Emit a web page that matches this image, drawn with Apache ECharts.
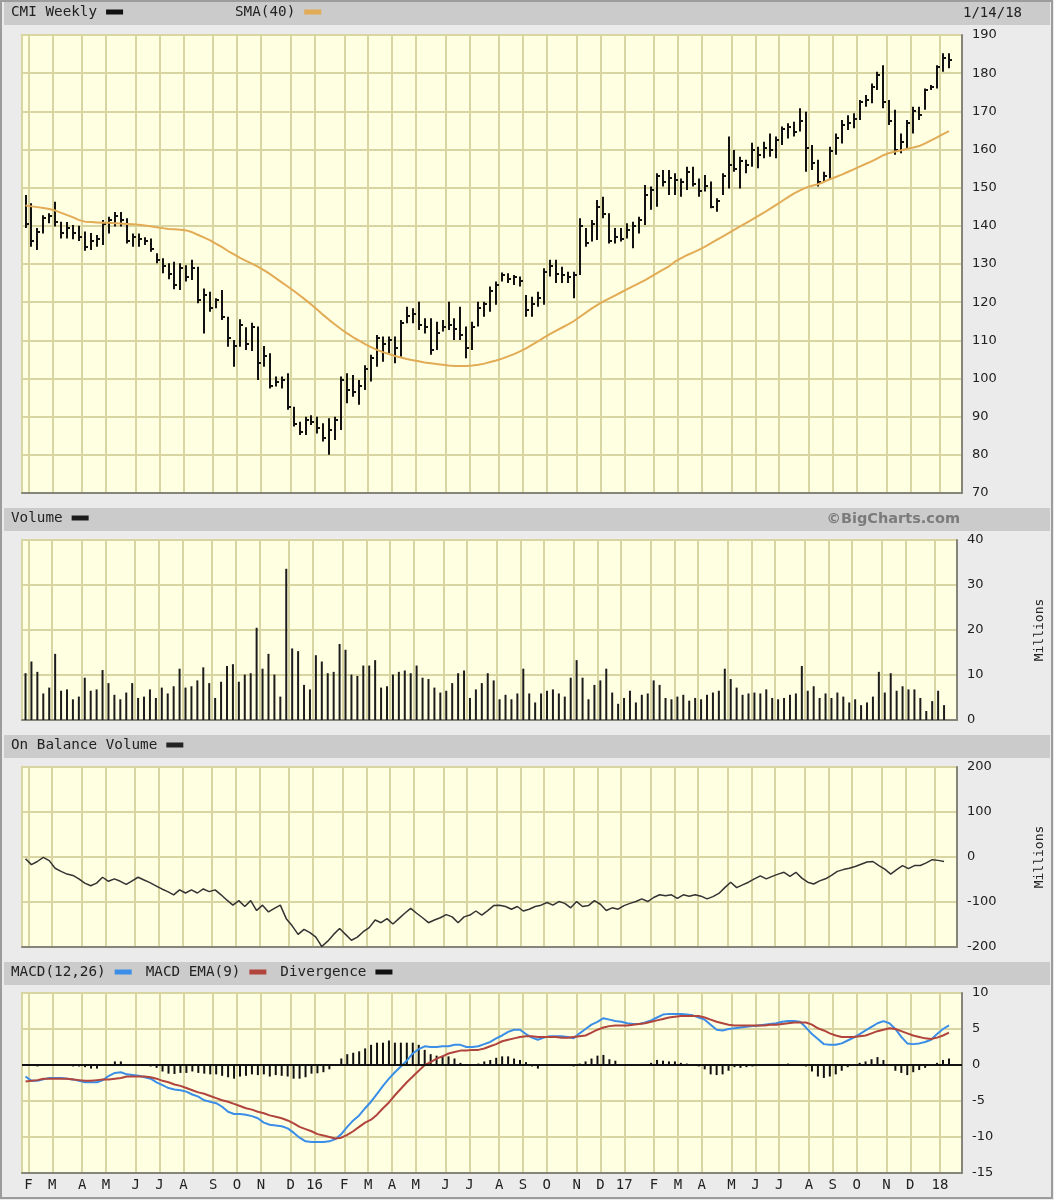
<!DOCTYPE html>
<html><head><meta charset="utf-8">
<script src="https://cdn.jsdelivr.net/npm/echarts@6/dist/echarts.min.js"></script>
<style>html,body{margin:0;padding:0;background:#ebebeb}#c{width:1054px;height:1200px}</style>
</head><body><div id="c"></div>
<script>
// ---------- DATA: 156 weekly bars, weeks starting Sunday 2015-01-25 ... 2018-01-14 ----------
const high = [
148.1,145.9,139.4,142.8,143.3,146.3,141.1,141.0,140.2,140.0,
138.5,138.1,137.6,141.5,142.4,143.6,143.6,142.0,138.0,138.0,
137.0,136.7,132.8,131.5,130.2,130.6,130.2,129.7,131.1,129.3,
123.6,122.7,121.0,123.2,116.2,110.1,115.5,113.4,114.6,113.6,
108.5,106.6,100.5,100.5,101.4,92.6,88.7,90.0,90.4,90.0,
88.3,89.6,90.0,100.5,101.4,100.9,99.6,103.5,106.2,111.4,
111.0,111.0,111.0,115.3,118.8,118.4,120.1,115.8,115.8,114.9,
115.3,120.1,115.8,118.8,113.6,114.9,120.1,120.1,124.1,125.4,
127.8,127.6,127.1,126.7,121.9,121.4,122.7,128.9,131.1,131.1,
129.3,128.0,128.0,142.0,139.4,141.5,146.8,147.6,143.3,139.4,
139.4,140.7,141.1,142.4,150.7,150.3,153.8,154.6,154.6,153.8,
152.4,155.5,155.5,152.4,153.3,151.6,147.2,153.8,163.4,159.9,
158.1,157.3,161.8,160.7,162.0,164.2,163.4,166.0,166.9,167.3,
170.8,169.9,161.2,157.3,154.2,160.7,164.2,167.7,169.0,169.5,
173.0,174.3,177.3,180.4,182.1,173.0,170.4,164.2,167.7,171.2,
171.2,176.0,176.9,182.1,185.2,185.2];
const low = [
139.4,134.5,133.7,138.0,140.7,139.8,136.7,136.7,136.5,136.0,
133.5,133.7,134.5,135.0,138.0,139.8,139.8,135.4,134.5,134.5,
135.0,133.2,130.2,127.6,126.0,123.4,123.2,125.4,125.8,119.7,
111.8,117.5,118.4,115.3,108.3,103.1,108.3,107.5,107.2,99.6,
103.1,97.4,97.9,97.4,91.8,87.4,85.2,85.2,87.8,85.6,
83.5,80.0,83.9,86.5,93.5,95.2,93.1,97.0,99.2,103.1,
104.4,106.6,104.0,105.7,114.5,114.5,112.7,111.8,106.2,107.5,
112.3,112.7,110.1,110.1,105.3,107.5,113.6,116.2,117.5,119.3,
125.4,125.0,124.5,124.1,116.2,116.2,118.8,119.3,126.7,125.0,
125.0,125.0,121.0,127.1,134.5,135.9,136.3,142.0,135.4,135.4,
135.9,136.7,134.1,138.0,140.2,144.2,145.0,150.3,148.1,148.1,
147.6,149.4,150.3,147.6,149.0,144.6,143.7,148.1,149.8,154.2,
149.8,153.8,155.5,155.1,157.7,158.1,157.7,161.2,162.9,163.4,
164.7,154.2,154.6,150.3,151.6,152.0,158.6,161.6,165.1,165.6,
167.7,171.2,172.1,175.6,170.8,166.4,158.6,159.0,160.3,164.2,
167.7,170.4,175.6,176.0,180.4,181.3];
const close = [
140.5,136.0,138.5,142.0,142.5,141.0,138.0,139.5,138.0,137.0,
134.5,136.0,136.5,140.5,141.5,142.5,141.5,136.0,137.0,136.5,
136.0,133.8,131.0,129.5,127.5,124.5,129.0,126.5,129.0,120.5,
122.0,118.5,120.5,116.0,110.5,108.5,114.0,109.0,113.5,104.0,
106.0,98.0,99.0,99.5,92.5,88.0,86.0,89.0,88.5,87.0,
84.5,86.5,89.0,99.5,97.0,96.5,98.0,102.5,105.5,110.5,
109.0,110.0,108.0,114.5,116.5,117.0,114.0,113.5,107.5,112.0,
113.5,114.0,113.0,111.5,108.0,113.5,118.5,119.5,123.0,124.5,
127.0,126.0,126.5,125.5,118.0,119.5,121.0,128.0,129.5,127.5,
127.0,126.5,127.0,140.0,135.5,140.5,145.0,143.0,136.0,137.0,
136.5,139.0,140.0,141.5,148.0,149.5,153.0,151.5,152.5,152.0,
151.5,154.0,151.0,149.0,150.5,145.0,146.5,153.0,156.0,155.0,
157.0,156.0,160.0,158.5,160.5,160.0,162.5,165.5,166.0,164.5,
167.5,160.5,156.5,151.5,153.0,159.5,163.0,166.5,167.0,168.0,
172.5,173.0,176.5,179.5,172.5,167.5,160.0,162.0,167.0,170.0,
169.0,175.5,176.5,181.5,184.0,183.5];
const sma40 = [
145.3,145.1,144.9,144.7,144.4,144.0,143.4,142.8,142.2,141.5,
141.1,141.0,140.9,140.8,140.8,140.7,140.6,140.5,140.4,140.3,
140.1,139.9,139.6,139.4,139.2,139.1,139.0,138.8,138.3,137.6,
136.9,136.2,135.3,134.4,133.4,132.5,131.6,130.8,130.1,129.3,
128.4,127.4,126.3,125.2,124.1,123.0,121.8,120.6,119.3,118.0,
116.6,115.3,114.1,112.9,111.8,110.8,109.9,109.0,108.2,107.5,
106.9,106.4,105.9,105.5,105.1,104.8,104.5,104.2,104.0,103.8,
103.6,103.4,103.3,103.3,103.3,103.4,103.6,103.9,104.3,104.7,
105.2,105.8,106.4,107.1,107.9,108.8,109.7,110.7,111.6,112.5,
113.3,114.1,115.0,116.1,117.2,118.3,119.3,120.2,121.0,121.8,
122.6,123.4,124.2,125.0,125.8,126.7,127.6,128.5,129.4,130.6,
131.5,132.3,133.0,133.7,134.5,135.4,136.3,137.2,138.1,139.0,
139.9,140.8,141.7,142.6,143.5,144.5,145.5,146.5,147.5,148.5,
149.3,150.0,150.5,150.9,151.5,152.2,152.8,153.4,154.1,154.8,
155.5,156.2,156.9,157.7,158.5,159.1,159.5,159.8,160.2,160.5,
160.9,161.6,162.4,163.2,164.0,164.8];
const volume = [
10.4,13,10.7,5.9,7.2,14.7,6.5,6.8,4.6,5.2,
9.4,6.5,6.8,11.1,8.2,5.6,4.6,6.1,8.2,4.9,
5.2,6.8,4.9,7.2,5.9,7.5,11.4,7.2,7.5,8.8,
11.7,8.2,4.9,8.5,12,12.4,8.5,10.1,10.4,20.5,
11.4,14.7,10.1,5.2,33.6,15.9,15.3,7.8,6.8,14.4,
13,10.4,10.7,16.9,15.6,10.1,9.8,12.1,12.1,13.3,
7.2,7.5,10.1,10.7,11,10.4,12.1,9.4,9.1,7.2,
6.1,6.5,8.2,10.4,11,4.9,6.8,8.2,10.4,8.8,
4.6,5.6,4.6,5.9,11.4,5.9,3.9,5.9,6.5,6.8,
5.9,5.2,9.4,13.3,9.4,4.6,7.8,8.8,11.4,6.1,
3.6,4.9,6.5,3.9,5.6,5.9,8.8,7.8,4.9,4.6,
5.2,5.6,4.3,4.9,4.6,5.6,6.1,6.5,11.4,9.1,
7.2,5.6,5.9,6.1,5.9,6.8,4.9,4.6,4.9,5.6,
5.9,12,6.5,7.5,4.9,5.9,4.9,6.1,5.2,3.9,
4.6,3.3,3.9,5.2,10.7,6.1,10.4,6.5,7.5,6.8,
6.8,4.9,2,4.2,6.5,3.3];
const obv = [
-3.7,-17,-10,-1,-8,-25,-32,-38,-41,-48.5,
-58,-64,-58,-45,-54,-48.5,-54,-61,-53,-45,
-51,-57,-64,-71,-77,-84,-73,-80,-73,-80,
-71,-77,-73,-84,-96,-107,-97,-110,-97,-119,
-107,-122,-114,-107,-137,-153,-172,-161,-168,-178,
-199,-187,-172,-159,-172,-185,-178,-166,-157,-140,
-146,-137,-149,-137,-125,-114,-125,-135,-146,-140,
-135,-128,-133,-146,-133,-129,-120,-129,-119,-108,
-107,-110,-116,-110,-120,-116,-110,-107,-101,-107,
-99,-103,-113,-99,-110,-108,-97,-105,-119,-113,
-116,-108,-103,-99,-93,-99,-90,-84,-86,-84,
-92,-84,-87,-84,-87,-93,-88,-81,-68,-56,
-68,-62,-56,-48.5,-42,-48.5,-43,-38,-34,-43,
-34,-47,-56,-60,-53,-48.5,-41,-32,-28,-25,
-21,-16,-11,-10,-19,-27,-38,-28,-19,-26,
-19,-19,-13,-6,-7.5,-10];
const macd = [
-1.6,-2.2,-2.2,-2.0,-1.8,-1.8,-1.8,-1.9,-2.0,-2.2,
-2.4,-2.4,-2.4,-2.1,-1.5,-1.1,-1.0,-1.3,-1.4,-1.5,
-1.7,-1.9,-2.4,-2.8,-3.2,-3.4,-3.5,-3.7,-4.1,-4.4,
-4.9,-5.1,-5.3,-5.8,-6.5,-6.8,-6.8,-6.9,-7.1,-7.4,
-8.0,-8.3,-8.4,-8.5,-8.8,-9.4,-10.1,-10.6,-10.7,-10.7,
-10.7,-10.6,-10.3,-9.6,-8.6,-7.7,-7.0,-6.0,-5.1,-4.0,
-2.9,-1.9,-1.0,-0.2,0.6,1.6,2.2,2.6,2.5,2.5,
2.6,2.6,2.8,2.8,2.5,2.5,2.6,2.9,3.2,3.7,
4.1,4.6,4.9,4.9,4.3,3.8,3.5,3.8,4.0,4.0,
4.0,3.9,3.7,4.4,5.0,5.6,6.0,6.5,6.3,6.1,
6.0,5.8,5.7,5.7,5.9,6.2,6.6,7.0,7.1,7.1,
7.1,7.0,6.9,6.6,6.3,5.6,4.9,4.8,5.0,5.1,
5.2,5.3,5.4,5.5,5.6,5.7,5.8,6.0,6.1,6.1,
6.0,5.2,4.3,3.6,2.9,2.8,2.8,3.0,3.4,3.8,
4.3,4.8,5.3,5.8,6.1,5.8,5.0,3.9,3.0,2.9,
3.0,3.2,3.5,4.3,5.0,5.5];
const macdEma = [
-2.3,-2.2,-2.1,-1.9,-1.9,-1.9,-1.9,-1.9,-2.0,-2.1,
-2.2,-2.2,-2.1,-2.0,-2.0,-1.9,-1.8,-1.6,-1.6,-1.6,
-1.6,-1.7,-1.9,-2.2,-2.4,-2.7,-2.9,-3.2,-3.5,-3.8,
-4.0,-4.3,-4.6,-4.9,-5.1,-5.4,-5.7,-6.0,-6.2,-6.5,
-6.7,-7.0,-7.2,-7.4,-7.7,-8.1,-8.6,-8.9,-9.2,-9.6,
-9.8,-10.0,-10.2,-10.1,-9.7,-9.2,-8.6,-8.0,-7.6,-6.9,
-6.0,-5.2,-4.2,-3.3,-2.4,-1.6,-0.8,0.0,0.4,0.9,
1.2,1.6,1.8,2.0,2.0,2.1,2.1,2.3,2.6,2.9,
3.3,3.5,3.7,3.9,4.0,4.0,3.9,3.9,3.9,3.9,
3.8,3.8,3.9,4.0,4.1,4.5,4.9,5.2,5.4,5.5,
5.5,5.5,5.6,5.7,5.8,6.0,6.2,6.4,6.6,6.7,
6.8,6.8,6.8,6.8,6.6,6.3,6.0,5.8,5.6,5.5,
5.5,5.5,5.5,5.5,5.5,5.6,5.6,5.7,5.8,5.9,
5.9,5.9,5.6,5.1,4.8,4.4,4.1,3.9,3.9,3.9,
4.0,4.1,4.4,4.7,4.9,5.1,5.0,4.7,4.4,4.1,
3.9,3.7,3.6,3.8,4.1,4.5];
const divergence = [
0.1,0,-0.2,0,0,0,0,0,-0.2,-0.2,
-0.3,-0.5,-0.5,0,0,0.5,0.5,0,0,0,
0,-0.2,-0.4,-0.9,-1.2,-1.25,-1.1,-1.1,-0.9,-1.1,
-1.2,-1.3,-1.3,-1.5,-1.7,-1.9,-1.6,-1.5,-1.3,-1.4,
-1.3,-1.6,-1.4,-1.5,-1.6,-1.9,-1.9,-1.7,-1.2,-1.15,
-1.0,-0.6,0,0.9,1.5,1.7,1.9,2.3,2.8,3.1,
3.1,3.4,3.1,3.1,3.1,3.1,2.8,2.1,1.5,1.3,
1.3,1.2,0.9,0.3,0,0,0.2,0.5,0.7,1.0,
1.2,1.2,0.9,0.7,0.4,-0.2,-0.5,0,0,0,
0,0,-0.2,0.2,0.5,0.9,1.3,1.4,0.8,0.6,
0,0,0,0,0,0.3,0.7,0.6,0.5,0.5,
0.3,0.2,0,-0.2,-0.6,-1.3,-1.4,-1.3,-0.8,-0.3,
-0.4,-0.3,-0.2,0,0,0,0,0,0.2,0,
0,-0.2,-0.9,-1.6,-1.8,-1.6,-1.3,-0.8,-0.3,0,
0.3,0.5,0.8,1.1,0.7,0.1,-0.8,-1.1,-1.4,-1.0,
-0.7,-0.4,0,0.3,0.7,0.9];
const monthLabels = ['F','M','A','M','J','J','A','S','O','N','D','16',
                     'F','M','A','M','J','J','A','S','O','N','D','17',
                     'F','M','A','M','J','J','A','S','O','N','D','18'];

// ---------- calendar helpers ----------
const DAY = 864e5, BASE = Date.UTC(2015, 0, 1);
const dayNum = (y, m, d) => (Date.UTC(y, m, d) - BASE) / DAY;
const firstSunday = dayNum(2015, 0, 25);
// each weekly bar sits in the middle of its Sunday-to-Sunday slot
const weekDays = high.map((_, i) => firstSunday + 7 * i + 3.5);
// month grid line: first week boundary (Sunday) on or after the 1st of the month
const monthTicks = monthLabels.map((_, k) => {
  const t = Date.UTC(2015, 1 + k, 1);
  const dow = new Date(t).getUTCDay();
  return (t - BASE) / DAY + ((7 - dow) % 7);
});
const X_MIN = 23.36, X_MAX = 1127.8;

// ---------- styles ----------
const MONO = '"DejaVu Sans Mono", monospace';
const SANS = '"DejaVu Sans", sans-serif';
const GRIDC = '#d9d5a3';
const PLOTBG = '#ffffe2';
const grids = [
  {left: 22, top: 35, width: 940, height: 458},
  {left: 22, top: 540, width: 940, height: 180},
  {left: 22, top: 767, width: 940, height: 180},
  {left: 22, top: 993, width: 940, height: 180}
];
const yCfg = [
  {min: 70, max: 190, interval: 10},
  {min: 0, max: 40, interval: 10, name: 'Millions'},
  {min: -200, max: 200, interval: 100, name: 'Millions'},
  {min: -15, max: 10, interval: 5}
];

const option = {
  backgroundColor: '#ebebeb',
  animation: false,
  grid: grids.map(g => Object.assign({show: true, backgroundColor: PLOTBG, borderWidth: 2, borderColor: GRIDC}, g)),
  xAxis: grids.map((g, k) => ({
    type: 'value', gridIndex: k, min: X_MIN, max: X_MAX,
    axisLine: {show: true, onZero: false, lineStyle: {color: '#85857a', width: 2}},
    axisTick: {show: false, customValues: monthTicks},
    axisLabel: {
      show: k === 3, customValues: monthTicks, margin: 5,
      formatter: v => { const j = monthTicks.indexOf(v); return j >= 0 ? monthLabels[j] : ''; },
      fontFamily: MONO, fontSize: 14, color: '#222'
    },
    splitLine: {show: true, lineStyle: {color: GRIDC, width: 2}}
  })),
  yAxis: yCfg.map((c, k) => ({
    type: 'value', gridIndex: k, position: 'right', min: c.min, max: c.max, interval: c.interval,
    name: c.name || '', nameLocation: 'middle', nameRotate: 90, nameGap: 76,
    nameTextStyle: {fontFamily: MONO, fontSize: 13, color: '#222'},
    axisLine: {show: true, lineStyle: {color: '#85857a', width: 2}},
    axisTick: {show: false},
    axisLabel: {fontFamily: SANS, fontSize: 13, color: '#222', margin: 10},
    splitLine: {show: true, lineStyle: {color: GRIDC, width: 2}}
  })),
  legend: (function () {
    const base = {orient: 'horizontal', align: 'right', icon: 'rect', itemWidth: 17, itemHeight: 5,
      padding: 0, itemGap: 14, selectedMode: false,
      textStyle: {fontFamily: MONO, fontSize: 14.3, color: '#222', padding: [0, 4, 0, 0]}};
    return [
      Object.assign({}, base, {left: 11, top: 5, data: ['CMI Weekly']}),
      Object.assign({}, base, {left: 235, top: 5, data: ['SMA(40)']}),
      Object.assign({}, base, {left: 11, top: 511, data: ['Volume']}),
      Object.assign({}, base, {left: 11, top: 738, data: ['On Balance Volume']}),
      Object.assign({}, base, {left: 11, top: 965, data: ['MACD(12,26)', 'MACD EMA(9)', 'Divergence']})
    ];
  })(),
  graphic: [
    {type: 'rect', z: 0, shape: {x: 1, y: 1, width: 1051, height: 1197}, style: {fill: 'none', stroke: '#9c9c9c', lineWidth: 2}},
    {type: 'rect', z: 0, shape: {x: 4, y: 2, width: 1046, height: 23}, style: {fill: '#cbcbcb'}},
    {type: 'rect', z: 0, shape: {x: 4, y: 508, width: 1046, height: 23}, style: {fill: '#cbcbcb'}},
    {type: 'rect', z: 0, shape: {x: 4, y: 735, width: 1046, height: 23}, style: {fill: '#cbcbcb'}},
    {type: 'rect', z: 0, shape: {x: 4, y: 962, width: 1046, height: 23}, style: {fill: '#cbcbcb'}},
    {type: 'text', z: 5, style: {text: '1/14/18', x: 1022, y: 13, align: 'right', verticalAlign: 'middle',
      textAlign: 'right', textVerticalAlign: 'middle', font: '14px ' + MONO, fill: '#222'}},
    {type: 'text', z: 5, style: {text: '\u00A9BigCharts.com', x: 960, y: 519, align: 'right', verticalAlign: 'middle',
      textAlign: 'right', textVerticalAlign: 'middle', font: 'bold 14.5px ' + SANS, fill: '#7b7b7b'}}
  ],
  series: [
    {
      name: 'CMI Weekly', type: 'custom', xAxisIndex: 0, yAxisIndex: 0, clip: true,
      itemStyle: {color: '#111'},
      data: weekDays.map((d, i) => [d, high[i], low[i], close[i]]),
      encode: {x: 0, y: [1, 2, 3]},
      renderItem: function (params, api) {
        const x = api.value(0);
        const pH = api.coord([x, api.value(1)]);
        const pL = api.coord([x, api.value(2)]);
        const pC = api.coord([x, api.value(3)]);
        const px = Math.round(pH[0]);
        const cy = Math.round(pC[1]);
        return {type: 'group', children: [
          {type: 'line', shape: {x1: px, y1: pH[1], x2: px, y2: pL[1]}, style: {stroke: '#111', lineWidth: 2}},
          {type: 'line', shape: {x1: px, y1: cy, x2: px + 3, y2: cy}, style: {stroke: '#111', lineWidth: 2}}
        ]};
      }
    },
    {
      name: 'SMA(40)', type: 'line', xAxisIndex: 0, yAxisIndex: 0, showSymbol: false, symbol: 'none',
      itemStyle: {color: '#e2ab55'}, lineStyle: {color: '#e2ab55', width: 2},
      data: weekDays.map((d, i) => [d, sma40[i]])
    },
    {
      name: 'Volume', type: 'bar', xAxisIndex: 1, yAxisIndex: 1, barWidth: 2,
      itemStyle: {color: '#1c1c1c'},
      data: weekDays.map((d, i) => [d, volume[i]])
    },
    {
      name: 'On Balance Volume', type: 'line', xAxisIndex: 2, yAxisIndex: 2, showSymbol: false, symbol: 'none',
      itemStyle: {color: '#222'}, lineStyle: {color: '#333', width: 1.5},
      data: weekDays.map((d, i) => [d, obv[i]])
    },
    {
      name: 'Divergence', type: 'bar', xAxisIndex: 3, yAxisIndex: 3, barWidth: 2,
      itemStyle: {color: '#111'},
      data: weekDays.map((d, i) => [d, divergence[i]]),
      markLine: {silent: true, symbol: 'none', label: {show: false},
        lineStyle: {color: '#111', width: 2, type: 'solid'}, data: [{yAxis: 0}]}
    },
    {
      name: 'MACD(12,26)', type: 'line', xAxisIndex: 3, yAxisIndex: 3, showSymbol: false, symbol: 'none',
      itemStyle: {color: '#3b8ee8'}, lineStyle: {color: '#3b8ee8', width: 2},
      data: weekDays.map((d, i) => [d, macd[i]])
    },
    {
      name: 'MACD EMA(9)', type: 'line', xAxisIndex: 3, yAxisIndex: 3, showSymbol: false, symbol: 'none',
      itemStyle: {color: '#b1443c'}, lineStyle: {color: '#b1443c', width: 2},
      data: weekDays.map((d, i) => [d, macdEma[i]])
    }
  ]
};
const chart = echarts.init(document.getElementById('c'), null, {renderer: 'canvas'});
chart.setOption(option);
</script>
</body></html>
